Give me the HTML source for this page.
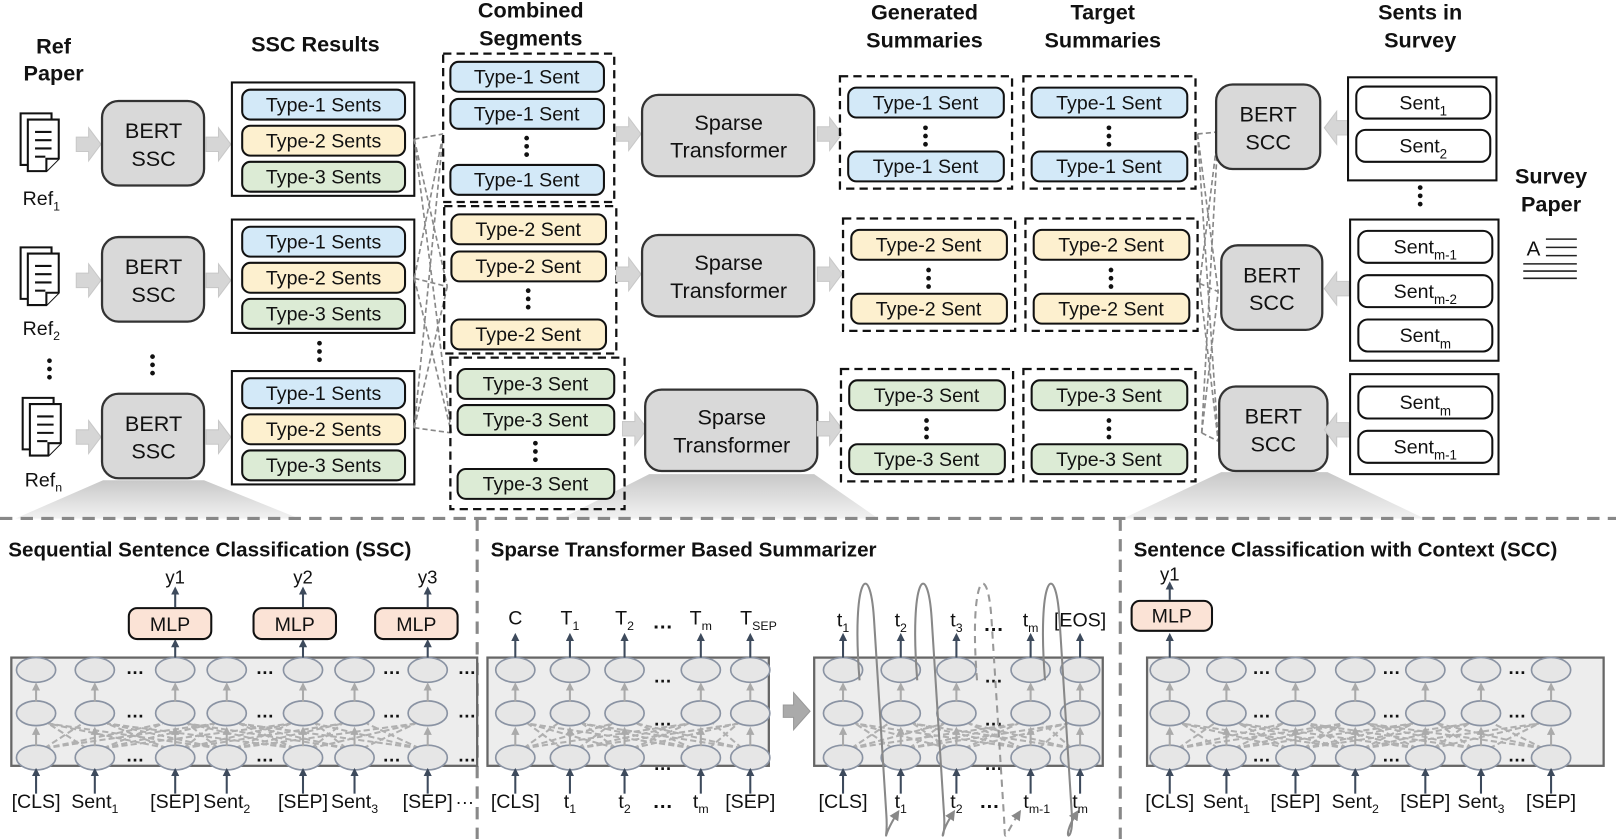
<!DOCTYPE html>
<html><head><meta charset="utf-8">
<style>
html,body{margin:0;padding:0;background:#fff;}
svg{display:block;}
text{font-family:"Liberation Sans Narrow","Liberation Sans",sans-serif;fill:#111;}
.b{font-weight:bold;}
</style></head>
<body>
<svg id="s" width="1616" height="839" viewBox="0 0 1568 814" preserveAspectRatio="none" xmlns="http://www.w3.org/2000/svg">
<defs>
<marker id="ad" markerWidth="8" markerHeight="8" refX="4" refY="4" orient="auto" markerUnits="userSpaceOnUse"><path d="M0,0 L8,4 L0,8 z" fill="#3d4a5c"/></marker>
<marker id="ag" markerWidth="8" markerHeight="8" refX="4" refY="4" orient="auto" markerUnits="userSpaceOnUse"><path d="M0,0 L8,4 L0,8 z" fill="#aaa"/></marker>
<marker id="am" markerWidth="10" markerHeight="10" refX="5" refY="5" orient="auto" markerUnits="userSpaceOnUse"><path d="M0,0 L10,5 L0,10 z" fill="#888"/></marker>
<linearGradient id="tg" x1="0" y1="0" x2="0" y2="1"><stop offset="0" stop-color="#c8c8c8"/><stop offset="1" stop-color="#f2f2f2"/></linearGradient>
</defs>
<g id="g"></g>
</svg>
<script>
var o='';
function R(x,y,w,h,rx,f,st,sw,da){o+='<rect x="'+x+'" y="'+y+'" width="'+w+'" height="'+h+'" rx="'+rx+'" fill="'+f+'" stroke="'+st+'" stroke-width="'+sw+'"'+(da?' stroke-dasharray="'+da+'"':'')+'/>';}
function T(x,y,s,sz,a,c){o+='<text x="'+x+'" y="'+y+'" font-size="'+sz+'" text-anchor="'+(a||'middle')+'"'+(c?' class="'+c+'"':'')+'>'+s+'</text>';}
function L(x1,y1,x2,y2,st,sw,da,m){o+='<line x1="'+x1+'" y1="'+y1+'" x2="'+x2+'" y2="'+y2+'" stroke="'+st+'" stroke-width="'+sw+'"'+(da?' stroke-dasharray="'+da+'"':'')+(m?' marker-end="url(#'+m+')"':'')+'/>';}
function P(d,f,st,sw,da,m){o+='<path d="'+d+'" fill="'+f+'" stroke="'+st+'" stroke-width="'+sw+'"'+(da?' stroke-dasharray="'+da+'"':'')+(m?' marker-end="url(#'+m+')"':'')+'/>';}
function dots(x,y){for(var i=0;i<3;i++)o+='<circle cx="'+x+'" cy="'+(y+i*8)+'" r="2.3" fill="#111"/>';}
function garrow(x,y,dir){
 if(dir>0)P('M'+x+','+(y-7)+' h12 v-9 l12,16 l-12,16 v-9 h-12 z','#d6d6d6','#c8c8c8',1);
 else P('M'+(x+24)+','+(y-7)+' h-12 v-9 l-12,16 l12,16 v-9 h12 z','#d6d6d6','#c8c8c8',1);}
var BL='#d3e9f8',YL='#fdf0cf',GR='#dcebd5';
P('M100,466 L198,466 L290,503 L15,503 z','url(#tg)','none',0);
P('M630,460 L790,460 L852,503 L545,503 z','url(#tg)','none',0);
P('M1185,458 L1288,458 L1382,503 L1090,503 z','url(#tg)','none',0);
T(52,52,'Ref','21','middle','b');T(52,78,'Paper','21','middle','b');
T(306,50,'SSC Results','21','middle','b');
T(515,17,'Combined','21','middle','b');T(515,44,'Segments','21','middle','b');
T(897,19,'Generated','21','middle','b');T(897,46,'Summaries','21','middle','b');
T(1070,19,'Target','21','middle','b');T(1070,46,'Summaries','21','middle','b');
T(1378,19,'Sents in','21','middle','b');T(1378,46,'Survey','21','middle','b');
T(1505,178,'Survey','21','middle','b');T(1505,205,'Paper','21','middle','b');
T(1488,248,'A','20');
[[1500,232,1530],[1500,240,1530],[1500,248,1530],[1478,256,1530],[1478,263,1530],[1478,270,1530]].forEach(function(a){L(a[0],a[1],a[2],a[1],'#222',1.5);});
function doc(x,y){P('M'+x+','+y+' h30 v50 h-30 z','#fff','#111',2);P('M'+(x+7)+','+(y+6)+' h30 v38 l-12,12 h-18 z','#fff','#111',2);P('M'+(x+37)+','+(y+44)+' l-12,0 l0,12','#fff','#111',2);
 for(var i=0;i<4;i++)L(x+14,y+18+i*8,x+30-(i==3?6:0),y+18+i*8,'#111',2);}
doc(20,110);doc(20,240);doc(22,386);
o+='<text x="22" y="199" font-size="19">Ref<tspan font-size="12" dy="5">1</tspan></text>';
o+='<text x="22" y="325" font-size="19">Ref<tspan font-size="12" dy="5">2</tspan></text>';
o+='<text x="24" y="472" font-size="19">Ref<tspan font-size="12" dy="5">n</tspan></text>';
dots(48,350);dots(148,346);dots(310,333);
[[99,98],[99,230],[99,382]].forEach(function(p){garrow(74,p[1]+42,1);R(p[0],p[1],99,82,16,'#d9d9d9','#333',2.2);T(p[0]+50,p[1]+36,'BERT','21');T(p[0]+50,p[1]+63,'SSC','21');garrow(200,p[1]+42,1);});
[80,213,360].forEach(function(y){R(225,y,177,110,0,'#fff','#111',2);
 [['Type-1 Sents',BL],['Type-2 Sents',YL],['Type-3 Sents',GR]].forEach(function(s,i){R(235,y+7+i*35,158,29,8,s[1],'#111',2);T(314,y+28+i*35,s[0],'19');});});
var ls=[135,270,415],rs=[130,278,420];
ls.forEach(function(a){rs.forEach(function(b,j){L(402,a,430+j*4,b,'#888',1.6,'5,3');});});
function seg(x,y,w,h,col,lab,ys,dy){R(x,y,w,h,0,'none','#111',2.2,'8,5');ys.forEach(function(yy){R(x+7,yy,w-17,29,8,col,'#111',2);T(x+w/2-2,yy+21,lab,'19');});dots(x+w/2-2,dy);}
seg(430,52,166,144,BL,'Type-1 Sent',[60,96,160],134);
seg(431,200,167,143,YL,'Type-2 Sent',[208,244,310],282);
seg(437,347,169,147,GR,'Type-3 Sent',[358,393,455],430);
[[623,92],[623,228],[626,378]].forEach(function(p,i){garrow(598+(i==2?6:0),p[1]+38,1);R(p[0],p[1],167,79,16,'#d9d9d9','#333',2.2);T(p[0]+84,p[1]+34,'Sparse','21');T(p[0]+84,p[1]+61,'Transformer','21');garrow(793,p[1]+38,1);});
function sb(x,y,col,lab){R(x,y,167,109,0,'none','#111',2.2,'8,5');R(x+8,y+11,151,29,8,col,'#111',2);T(x+83,y+32,lab,'19');dots(x+83,y+50);R(x+8,y+73,151,29,8,col,'#111',2);T(x+83,y+94,lab,'19');}
sb(815,74,BL,'Type-1 Sent');sb(993,74,BL,'Type-1 Sent');
sb(818,212,YL,'Type-2 Sent');sb(995,212,YL,'Type-2 Sent');
sb(816,358,GR,'Type-3 Sent');sb(993,358,GR,'Type-3 Sent');
var ra=[130,275,420],rb=[128,283,428];
ra.forEach(function(a,i){rb.forEach(function(b){L(1162+i*2,a,1182,b,'#888',1.6,'5,3');});});
[[1180,82,101],[1185,238,98],[1183,375,105]].forEach(function(p){R(p[0],p[1],p[2],82,16,'#d9d9d9','#333',2.2);T(p[0]+p[2]/2,p[1]+36,'BERT','21');T(p[0]+p[2]/2,p[1]+63,'SCC','21');garrow(1285,p[1]+42,-1);});
function sp(x,y,m,sub){R(x,y,130,31,9,'#fff','#111',2);o+='<text x="'+(x+65)+'" y="'+(y+22)+'" font-size="19" text-anchor="middle">'+m+'<tspan font-size="13" dy="6">'+sub+'</tspan></text>';}
R(1308,75,144,100,0,'#fff','#111',2);sp(1316,84,'Sent','1');sp(1316,126,'Sent','2');
dots(1378,182);
R(1310,213,144,137,0,'#fff','#111',2);sp(1318,224,'Sent','m-1');sp(1318,267,'Sent','m-2');sp(1318,310,'Sent','m');
R(1310,363,144,97,0,'#fff','#111',2);sp(1318,375,'Sent','m');sp(1318,418,'Sent','m-1');
L(0,503,1568,503,'#888',3,'12,8');L(463,503,463,814,'#888',3,'12,8');L(1087,503,1087,814,'#888',3,'12,8');
T(8,540,'Sequential Sentence Classification (SSC)','20','start','b');
T(476,540,'Sparse Transformer Based Summarizer','20','start','b');
T(1100,540,'Sentence Classification with Context (SCC)','20','start','b');
function net(x1,x2,cols,gaps){R(x1,638,x2-x1,105,0,'#ededed','#666',2.2);
 var rows=[650,692,735];
 for(var i=0;i<cols.length;i++)for(var j=0;j<cols.length;j++){if(i!=j&&Math.abs(i-j)<=3)L(cols[i]+(j>i?8:-8),726,cols[j]+(j>i?-12:12),702,'#b0b0b0',2,'6,3');}
 cols.forEach(function(c){rows.forEach(function(r){o+='<ellipse cx="'+c+'" cy="'+r+'" rx="19" ry="12" fill="#e6e6e6" stroke="#8a93a3" stroke-width="1.6"/>';});
  L(c,724,c,709,'#aaa',2,null,'ag');L(c,681,c,666,'#aaa',2,null,'ag');});
 gaps.forEach(function(g){rows.forEach(function(r){T(g[0],r+g[1],'…','18','middle','b');});});
}
var sc=[35,92,170,220,294,344,415];
net(11,463,sc,[[131,4],[257,4],[380,4],[453,4]]);
['[CLS]','Sent<tspan font-size="12" dy="5">1</tspan>','[SEP]','Sent<tspan font-size="12" dy="5">2</tspan>','[SEP]','Sent<tspan font-size="12" dy="5">3</tspan>','[SEP]'].forEach(function(s,i){L(sc[i],770,sc[i],749,'#3d4a5c',2,null,'ad');T(sc[i],784,s,'19');});
T(451,784,'···','18');
[[170,'y1',125],[294,'y2',246],[415,'y3',364]].forEach(function(a){L(a[0],638,a[0],624,'#3d4a5c',2,null,'ad');R(a[2],590,80,30,8,'#fbe3d6','#111',2);T(a[2]+40,612,'MLP','19');L(a[0],589,a[0],573,'#3d4a5c',2,null,'ad');T(a[0],566,a[1],'18');});
var s1=[500,553,606,680,728];
net(473,746,s1,[[643,12]]);
['[CLS]','t<tspan font-size="12" dy="5">1</tspan>','t<tspan font-size="12" dy="5">2</tspan>','t<tspan font-size="12" dy="5">m</tspan>','[SEP]'].forEach(function(s,i){L(s1[i],770,s1[i],749,'#3d4a5c',2,null,'ad');T(s1[i],784,s,'19');});
T(643,784,'…','20','middle','b');
['C','T<tspan font-size="12" dy="5">1</tspan>','T<tspan font-size="12" dy="5">2</tspan>','T<tspan font-size="12" dy="5">m</tspan>','T<tspan font-size="12" dy="5">SEP</tspan>'].forEach(function(s,i){L(s1[i],638,s1[i],618,'#3d4a5c',2,null,'ad');T(s1[i]+(i==4?8:0),606,s,'19');});
T(643,610,'…','20','middle','b');
P('M760,684 h10 v-12 l16,18 l-16,18 v-12 h-10 z','#aaa','#999',1);
var s2=[818,874,928,1000,1048];
net(790,1070,s2,[[964,12]]);
['[CLS]','t<tspan font-size="12" dy="5">1</tspan>','t<tspan font-size="12" dy="5">2</tspan>','t<tspan font-size="12" dy="5">m-1</tspan>','t<tspan font-size="12" dy="5">m</tspan>'].forEach(function(s,i){L(s2[i],770,s2[i],749,'#3d4a5c',2,null,'ad');T(s2[i]+(i==3?6:0),784,s,'19');});
T(960,784,'…','20','middle','b');
['t<tspan font-size="12" dy="5">1</tspan>','t<tspan font-size="12" dy="5">2</tspan>','t<tspan font-size="12" dy="5">3</tspan>','t<tspan font-size="12" dy="5">m</tspan>','[EOS]'].forEach(function(s,i){L(s2[i],638,s2[i],618,'#3d4a5c',2,null,'ad');T(s2[i],608,s,'19');});
T(964,612,'…','20','middle','b');
[[830,874,0],[886,928,0],[944,992,1],[1010,1048,0]].forEach(function(a){var x1=a[0],x2=a[1];
 P('M'+(x1+4)+',660 C'+(x1-4)+',560 '+(x1+14)+',540 '+(x1+18)+',600 L'+(x1+30)+',790 C'+(x1+32)+',820 '+(x2-20)+',815 '+(x2-4)+',790','none',a[2]?'#999':'#888',2,a[2]?'7,5':null,'am');});
var s3=[1135,1190,1257,1315,1383,1437,1505];
net(1113,1556,s3,[[1224,4],[1350,4],[1472,4]]);
['[CLS]','Sent<tspan font-size="12" dy="5">1</tspan>','[SEP]','Sent<tspan font-size="12" dy="5">2</tspan>','[SEP]','Sent<tspan font-size="12" dy="5">3</tspan>','[SEP]'].forEach(function(s,i){L(s3[i],770,s3[i],749,'#3d4a5c',2,null,'ad');T(s3[i],784,s,'19');});
L(1135,638,1135,618,'#3d4a5c',2,null,'ad');R(1098,583,78,29,8,'#fbe3d6','#111',2);T(1137,604,'MLP','19');L(1135,582,1135,568,'#3d4a5c',2,null,'ad');T(1135,563,'y1','18');
document.getElementById('g').innerHTML=o;
</script>
</body></html>
